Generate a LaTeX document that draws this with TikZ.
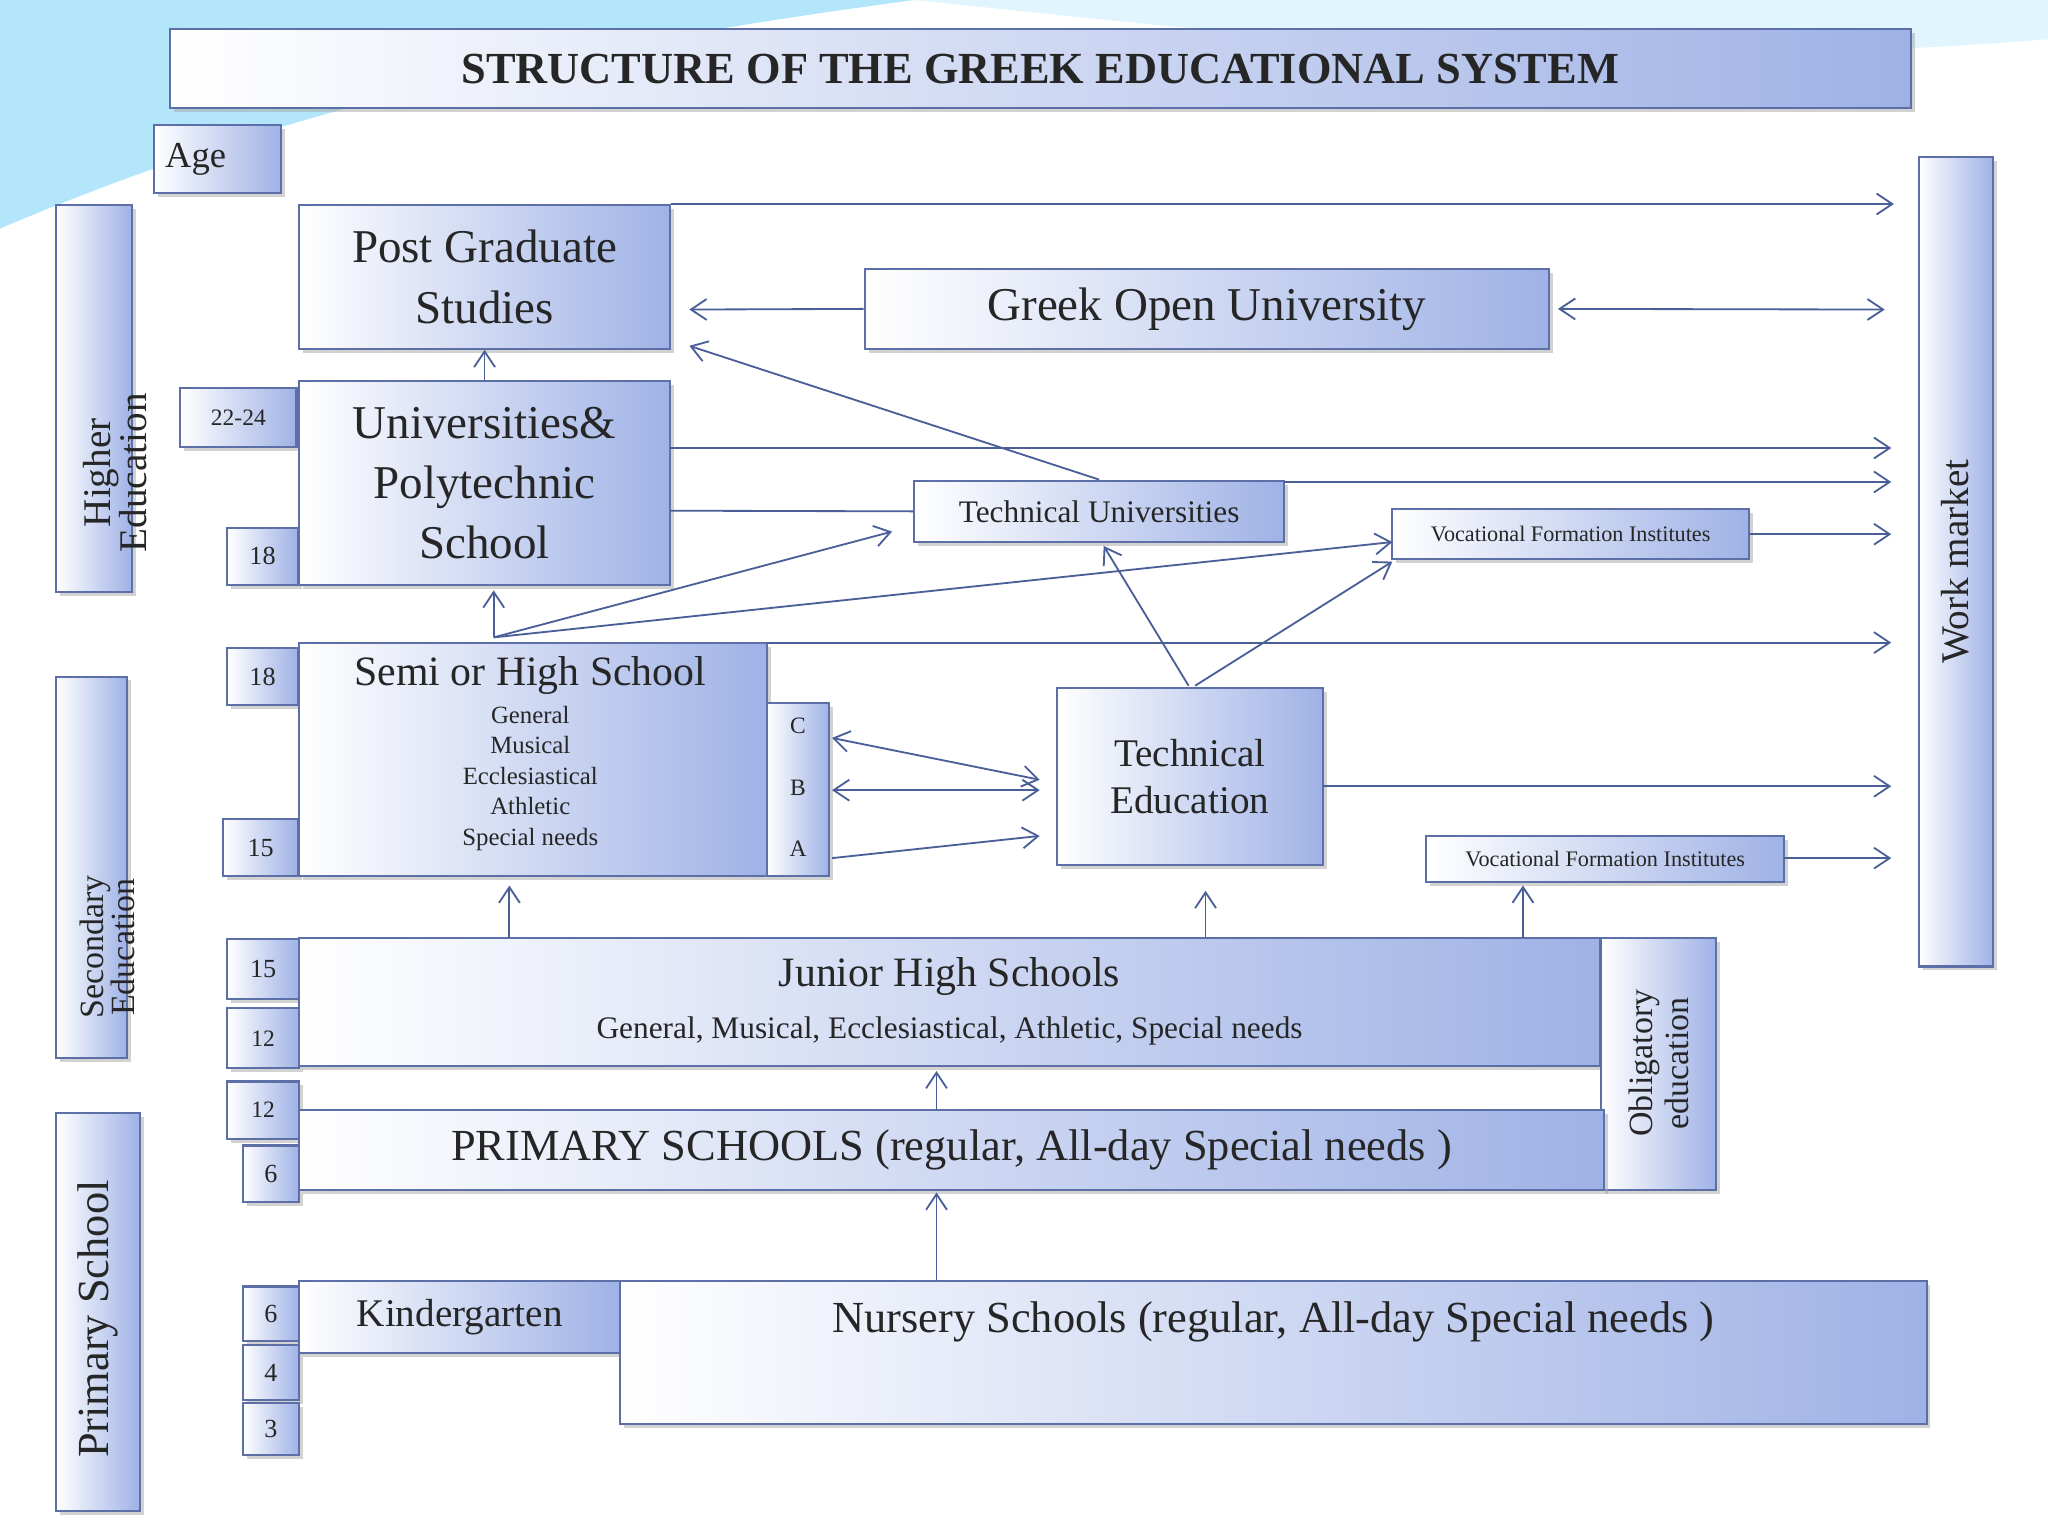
\documentclass[tikz,border=0pt]{standalone}
\usepackage{fontspec}
\setmainfont{Liberation Serif}
\usetikzlibrary{arrows.meta,shadows,calc}
\definecolor{bb}{HTML}{9FB2E6}
\definecolor{bd}{HTML}{5C6FA6}
\definecolor{ln}{HTML}{4A5F98}
\tikzset{
  bx/.style={draw=bd,line width=0.8pt,left color=white,right color=bb,
    drop shadow={shadow xshift=1.5pt,shadow yshift=-1.5pt,fill=black!35},
    inner sep=1pt,align=center,text=black!85},
  lbl/.style={align=center,text=black!85,inner sep=0pt},
  ar/.style={draw=ln,line width=0.7pt,-{Straight Barb[length=6pt,width=8pt]}},
  ln/.style={draw=ln,line width=0.7pt},
  dar/.style={ar,{Straight Barb[length=6pt,width=8pt]}-{Straight Barb[length=6pt,width=8pt]}}
}
\newcommand\fs[2]{\fontsize{#1}{#2}\selectfont}
\newcommand\mybox[7][]{%
  \pgfmathsetmacro\bw{(#4-#2)*0.5}\pgfmathsetmacro\bh{(#5-#3)*0.5}%
  \node[bx,minimum width=\bw pt,minimum height=\bh pt,#1] (#6) at ({(#2+#4)/2},{-(#3+#5)/2}) {#7};}
\begin{document}
\begin{tikzpicture}[x=0.5pt,y=0.5pt]
\useasboundingbox (0,0) rectangle (1568,-1176);
\fill[white] (0,0) rectangle (1568,-1176);
\fill[cyan!30] (0,0) -- (700,0) .. controls (400,-40) and (200,-90) .. (0,-175) -- cycle;
\fill[cyan!12] (700,0) -- (1568,0) -- (1568,-30) .. controls (1200,-60) and (900,-20) .. (700,0) -- cycle;
\mybox[font=\fs{17}{20}\bfseries]{130}{22}{1463}{83}{title}{STRUCTURE OF THE GREEK EDUCATIONAL SYSTEM}
\mybox[font=\fs{14}{16},text width=40pt,align=left]{118}{96}{215}{148}{age}{Age}
\mybox{43}{157}{101}{453}{he}{}
\node[lbl,rotate=90,font=\fs{15}{14}] at (88,-362) {Higher\\Education};
\mybox{43}{518}{97}{810}{se}{}
\node[lbl,rotate=90,font=\fs{13}{12}] at (82,-725) {Secondary\\Education};
\mybox{43}{852}{107}{1157}{ps}{}
\node[lbl,rotate=90,font=\fs{17}{17}] at (75,-1010) {Primary School};
\mybox{1469}{120}{1526}{740}{wm}{}
\node[lbl,rotate=90,font=\fs{15}{15}] at (1497,-430) {Work market};
\mybox[font=\fs{18}{23}]{229}{157}{513}{267}{pg}{Post Graduate\\Studies}
\mybox[font=\fs{18}{20}]{662}{206}{1186}{267}{gou}{Greek Open University}
\mybox[font=\fs{9}{10}]{138}{297}{227}{342}{a2224}{22-24}
\mybox[font=\fs{10}{10}]{174}{404}{228}{448}{a18a}{18}
\mybox[font=\fs{18}{23}]{229}{292}{513}{448}{uni}{Universities\&\\Polytechnic\\School}
\mybox[font=\fs{12}{14}]{700}{368}{983}{415}{tu}{Technical Universities}
\mybox[font=\fs{8.5}{10}]{1066}{390}{1339}{428}{vfa}{Vocational Formation Institutes}
\mybox[font=\fs{10}{10}]{174}{496}{228}{540}{a18b}{18}
\mybox[font=\fs{10}{10}]{171}{627}{228}{671}{a15a}{15}
\mybox{229}{492}{587}{671}{shs}{}
\node[lbl,anchor=north,font=\fs{16}{18}] at (406,-502) {Semi or High School};
\node[lbl,anchor=north,font=\fs{9.5}{11.7}] at (406,-540) {General\\Musical\\Ecclesiastical\\Athletic\\Special needs};
\mybox{587}{538}{635}{671}{cba}{}
\node[lbl,font=\fs{9}{10}] (cC) at (611,-556) {C};
\node[lbl,font=\fs{9}{10}] (cB) at (611,-603) {B};
\node[lbl,font=\fs{9}{10}] (cA) at (611,-650) {A};
\mybox[font=\fs{15}{18}]{809}{527}{1013}{662}{te}{Technical\\Education}
\mybox[font=\fs{8.5}{10}]{1092}{640}{1366}{675}{vfb}{Vocational Formation Institutes}
\mybox[font=\fs{10}{10}]{174}{719}{229}{765}{a15b}{15}
\mybox[font=\fs{9}{10}]{174}{772}{229}{818}{a12a}{12}
\mybox{229}{718}{1225}{816}{jhs}{}
\node[lbl,font=\fs{16}{18}] at (727,-748) {Junior High Schools};
\node[lbl,font=\fs{12}{14}] at (727,-789) {General, Musical, Ecclesiastical, Athletic, Special needs};
\mybox{1226}{718}{1314}{911}{obl}{}
\node[lbl,rotate=90,font=\fs{13}{14}] at (1270,-814) {Obligatory\\education};
\mybox[font=\fs{9}{10}]{174}{828}{229}{872}{a12b}{12}
\mybox[font=\fs{10}{10}]{186}{877}{229}{920}{a6a}{6}
\mybox[font=\fs{17}{20}]{229}{850}{1228}{911}{pri}{PRIMARY SCHOOLS (regular, All-day Special needs )}
\mybox[font=\fs{10}{10}]{186}{985}{229}{1027}{a6b}{6}
\mybox[font=\fs{10}{10}]{186}{1030}{229}{1072}{a4}{4}
\mybox[font=\fs{10}{10}]{186}{1074}{229}{1114}{a3}{3}
\mybox[font=\fs{15}{18}]{229}{981}{475}{1036}{kg}{Kindergarten}
\mybox{475}{981}{1475}{1090}{nur}{}
\node[lbl,font=\fs{17}{20}] at (975,-1012) {Nursery Schools (regular, All-day Special needs )};
\coordinate (e) at (1450,0);
\draw[ar] (pg.north east) -- (e |- pg.north);
\draw[ar] (gou.west) -- ($(pg.east)+(14,-25)$);
\draw[dar] ($(gou.east)+(6,0)$) -- (1443,-237);
\draw[ar] (tu.north) -- ($(pg.south east)+(14,3)$);
\draw[ar] (uni.north) -- (pg.south);
\draw[ar] (513,-343) -- (1448,-343);
\draw[ar] (983,-369) -- (1448,-369);
\draw[ln] (513,-391) -- (tu.west);
\draw[ar] (vfa.east) -- (1448,-409);
\coordinate (sh) at (378,-488);
\draw[ar] (sh) -- (378,-452);
\draw[ar] (sh) -- (683,-407);
\draw[ar] (sh) -- (1066,-415);
\draw[ar] (587,-492) -- (1448,-492);
\draw[dar] (637,-565) -- (796,-597);
\draw[dar] (637,-605) -- (796,-605);
\draw[ar] (637,-657) -- (796,-640);
\draw[ar] (910,-525) -- (845,-418);
\draw[ar] (915,-525) -- (1066,-430);
\draw[ar] (1013,-602) -- (1448,-602);
\draw[ar] (1366,-657) -- (1448,-657);
\draw[ar] (390,-718) -- (390,-678);
\draw[ar] (923,-718) -- (923,-682);
\draw[ar] (1166,-718) -- (1166,-678);
\draw[ar] (717,-850) -- (717,-820);
\draw[ar] (717,-981) -- (717,-913);
\end{tikzpicture}
\end{document}
